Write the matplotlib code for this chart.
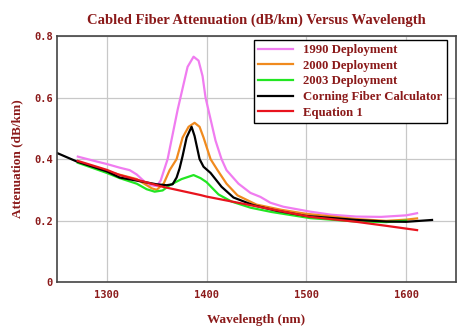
import matplotlib.pyplot as plt

# Cabled fiber attenuation curves, dB/km vs wavelength in nm
wl_1990 = [1271, 1290, 1300, 1313, 1323, 1330, 1336, 1342, 1350, 1354, 1358, 1361,
           1366, 1371, 1376, 1381, 1387, 1392, 1396, 1399, 1404, 1409, 1415, 1420,
           1432, 1444, 1454, 1464, 1477, 1504, 1525, 1550, 1575, 1600, 1611]
att_1990 = [0.408, 0.392, 0.384, 0.372, 0.364, 0.350, 0.332, 0.316, 0.312, 0.330, 0.370, 0.400,
            0.480, 0.560, 0.630, 0.700, 0.733, 0.720, 0.670, 0.600, 0.530, 0.460, 0.400, 0.364,
            0.320, 0.290, 0.277, 0.258, 0.245, 0.229, 0.219, 0.213, 0.212, 0.217, 0.224]

wl_2000 = [1271, 1300, 1330, 1345, 1350, 1357, 1363, 1370, 1376, 1382, 1388, 1393,
           1397, 1404, 1411, 1420, 1431, 1450, 1475, 1500, 1550, 1580, 1600, 1611]
att_2000 = [0.392, 0.360, 0.335, 0.305, 0.300, 0.320, 0.364, 0.400, 0.470, 0.505, 0.518, 0.505,
            0.470, 0.400, 0.364, 0.320, 0.282, 0.252, 0.235, 0.222, 0.205, 0.199, 0.203, 0.207]

wl_2003 = [1271, 1300, 1313, 1330, 1340, 1348, 1356, 1363, 1375, 1387, 1394, 1400,
           1412, 1425, 1444, 1465, 1504, 1550, 1580, 1600]
att_2003 = [0.388, 0.355, 0.338, 0.320, 0.302, 0.294, 0.298, 0.315, 0.335, 0.348, 0.338, 0.325,
            0.285, 0.262, 0.242, 0.228, 0.208, 0.197, 0.195, 0.200]

wl_corning = [1250, 1270, 1300, 1313, 1330, 1350, 1360, 1366, 1370, 1373, 1376, 1380,
              1385, 1388, 1393, 1397, 1404, 1415, 1427, 1447, 1470, 1500, 1550, 1580,
              1600, 1626]
att_corning = [0.420, 0.392, 0.360, 0.340, 0.330, 0.318, 0.315, 0.318, 0.340, 0.370, 0.410, 0.470,
               0.505, 0.475, 0.400, 0.375, 0.355, 0.310, 0.275, 0.250, 0.232, 0.215, 0.202, 0.197,
               0.196, 0.202]

wl_eq1 = [1271, 1300, 1313, 1356, 1394, 1400, 1449, 1504, 1550, 1580, 1611]
att_eq1 = [0.394, 0.365, 0.348, 0.310, 0.283, 0.278, 0.247, 0.212, 0.196, 0.183, 0.169]

x_ticks = [1300, 1400, 1500, 1600]
y_ticks = [0, 0.2, 0.4, 0.6, 0.8]
y_tick_labels = ["0", "0.2", "0.4", "0.6", "0.8"]

text_red = "#8b1a1a"
serif = ["Liberation Serif", "DejaVu Serif"]

fig = plt.figure(figsize=(4.74, 3.28), dpi=100)
ax = fig.add_axes([0.120, 0.140, 0.842, 0.750])

ax.plot(wl_1990, att_1990, color="#f07cf0", lw=1.6, label="1990 Deployment")
ax.plot(wl_2000, att_2000, color="#f08a1e", lw=1.6, label="2000 Deployment")
ax.plot(wl_2003, att_2003, color="#22e622", lw=1.6, label="2003 Deployment")
ax.plot(wl_corning, att_corning, color="black", lw=1.6, label="Corning Fiber Calculator")
ax.plot(wl_eq1, att_eq1, color="#e8141e", lw=1.6, label="Equation 1")

ax.set_xlim(1250, 1650)
ax.set_ylim(0, 0.8)
ax.set_xticks(x_ticks)
ax.set_yticks(y_ticks)
ax.set_yticklabels(y_tick_labels)
ax.tick_params(length=0, labelsize=7.5, labelcolor=text_red)
ax.tick_params(axis="x", pad=6)
ax.tick_params(axis="y", pad=3)
for lab in ax.get_xticklabels() + ax.get_yticklabels():
    lab.set_family("DejaVu Sans Mono")
    lab.set_fontweight("bold")
ax.grid(True, color="#c8c8c8", lw=0.9)
ax.set_axisbelow(True)
for sp in ax.spines.values():
    sp.set_color("#444444")
    sp.set_linewidth(1.2)

ax.set_title("Cabled Fiber Attenuation (dB/km) Versus Wavelength", family=serif,
             fontweight="bold", fontsize=10.5, color=text_red, pad=9)
ax.set_xlabel("Wavelength (nm)", family=serif, fontweight="bold", fontsize=9.5,
              color=text_red, labelpad=10)
ax.set_ylabel("Attenuation (dB/km)", family=serif, fontweight="bold", fontsize=9.5,
              color=text_red, labelpad=8)

leg = ax.legend(loc="upper right", bbox_to_anchor=(0.977, 0.985), fancybox=False,
                framealpha=1, edgecolor="black", handlelength=2.7, labelspacing=0.28,
                borderpad=0.35, handletextpad=0.8, borderaxespad=0,
                prop={"family": serif, "weight": "bold", "size": 9.2})
leg.get_frame().set_linewidth(1.0)
for t in leg.get_texts():
    t.set_color(text_red)

fig.savefig("out.png", dpi=100)
